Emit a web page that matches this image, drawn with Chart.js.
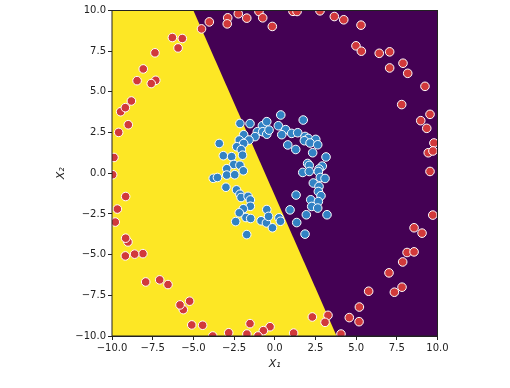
<!DOCTYPE html>
<html>
<head>
<meta charset="utf-8">
<script src="https://cdn.jsdelivr.net/npm/chart.js@4.4.0/dist/chart.umd.min.js"></script>
<style>
  body { margin: 0; background: #fff; }
</style>
</head>
<body>
<canvas id="chart" width="510" height="388"></canvas>
<script>
// axis ticks (both axes)
const tickValues = [-10, -7.5, -5, -2.5, 0, 2.5, 5, 7.5, 10];

// decision boundary: yellow region is left of this line
const boundaryX = [-10, -5, 3.8];
const boundaryY = [10, 10, -10];

// outer ring (class 0, red)
const redX = [-4.5, -4.02, -2.89, -2.92, -2.24, -1.72, -0.97, -0.74, -0.15, 1.12, 1.37, 2.78, 3.66, 4.24, 5.3,
  4.99, 5.32, 6.42, 7.06, 7.88, 7.06, 8.17, 9.23, 7.8, 9.54, 8.97, 9.34, 9.78, 9.43, 9.72, 9.54,
  9.71, 8.56, 9.05, 8.13, 8.56, 7.86, 7.02, 7.82, 7.35, 5.77, 5.2, 4.58, 5.18, 3.27, 3.09, 2.31, 4.07,
  1.16, -0.29, -0.7, -1.03, -1.52, -1.71, -2.83, -3.81, -4.43, -5.1, -5.62, -5.82, -5.23, -6.56, -7.07,
  -7.93, -8.1, -8.61, -9.18, -9.02, -9.16, -9.8, -9.67, -9.16, -9.96, -9.88, -9.59, -9.0, -9.47, -9.18,
  -8.81, -7.31, -7.59, -8.46, -8.08, -7.36, -5.94, -5.68, -6.29];
const redY = [8.87, 9.3, 9.55, 9.18, 9.8, 9.53, 9.94, 9.55, 9.02, 9.95, 9.94, 9.98, 9.63, 9.43, 9.1,
  7.83, 7.5, 7.37, 7.46, 6.76, 6.47, 6.14, 5.34, 4.22, 3.62, 3.23, 2.76, 1.86, 1.26, 1.37, 0.11,
  -2.57, -3.35, -3.68, -4.87, -4.83, -5.45, -6.12, -7.0, -7.31, -7.25, -8.22, -8.87, -9.12, -8.73, -9.16, -8.83, -9.88,
  -9.82, -9.43, -9.67, -10.0, -9.24, -9.88, -9.8, -10.0, -9.34, -9.32, -8.38, -8.09, -7.86, -6.84, -6.55,
  -6.68, -4.94, -4.97, -5.08, -4.22, -3.99, -3.0, -2.2, -1.43, -0.09, 0.97, 2.51, 2.98, 3.78, 4.03,
  4.44, 5.71, 5.51, 5.69, 6.41, 7.4, 7.7, 8.28, 8.34];

// inner ring (class 1, blue)
const blueX = [-2.14, -1.52, -0.76, -0.49, -1.07, -0.74, -0.49, -1.91, -1.21, -2.18, -1.58, -1.91, -3.41, -2.34,
  -2.06, -3.16, -2.65, -1.98, -2.52, -2.14, -2.95, -1.93, 0.37, 1.75, 0.22, -0.35, 0.67, 1.04, 1.41, 0.43,
  1.86, 2.06, 2.52, 1.82, 2.17, 2.64, 0.8, 1.29, 2.33, 3.15, 2.02, 2.12, 2.92, 2.72, -3.78, -3.52, -2.95,
  -2.46, -3.0, -2.35, -2.14, -2.07, -1.64, -1.5, -1.5, -1.93, -2.18, -1.77, -1.48, -2.4, -0.49, -0.84, -0.51,
  -1.72, 1.72, 2.12, 2.68, 2.8, 3.09, 2.37, 2.72, 2.68, 2.84, 1.31, 2.21, 2.68, 2.27, 2.64, 0.94, 1.94,
  3.21, -0.38, 0.26, 0.35, -0.14, 1.35, 1.86];
const blueY = [3.06, 3.05, 2.92, 3.17, 2.55, 2.55, 2.4, 2.37, 2.25, 2.04, 2.04, 1.83, 1.83, 1.63,
  1.45, 1.08, 1.02, 1.11, 0.54, 0.49, 0.28, 0.15, 3.58, 3.27, 2.92, 2.65, 2.68, 2.45, 2.49, 2.37,
  2.26, 2.14, 2.08, 2.0, 1.86, 1.75, 1.74, 1.46, 1.26, 1.0, 0.6, 0.48, 0.44, 0.26, -0.31, -0.26, -0.11,
  -0.09, -0.86, -1.02, -1.29, -1.49, -1.42, -1.64, -2.03, -2.18, -2.43, -2.72, -2.78, -2.97, -2.23, -2.92, -3.05,
  -3.77, 0.05, 0.11, 0.11, -0.26, -0.32, -0.6, -0.81, -1.12, -1.38, -1.34, -1.63, -1.74, -2.04, -2.14, -2.25, -2.55,
  -2.55, -2.65, -2.74, -2.95, -3.35, -3.03, -3.74];

const toPoints = (xs, ys) => xs.map((x, i) => ({ x: x, y: ys[i] }));

const fmt = (v) => v.toFixed(1).replace("-", "\u2212");

// top and right spines
const framePlugin = {
  id: "frame",
  afterDatasetsDraw(chart) {
    const { ctx, chartArea } = chart;
    ctx.save();
    ctx.strokeStyle = "#222";
    ctx.lineWidth = 1;
    ctx.strokeRect(chartArea.left, chartArea.top, chartArea.right - chartArea.left, chartArea.bottom - chartArea.top);
    ctx.restore();
  },
};

const pointStyle = (color) => ({
  type: "scatter",
  backgroundColor: color,
  borderColor: "#ffffff",
  borderWidth: 1,
  pointRadius: 4.3,
  pointHoverRadius: 4.3,
  clip: 0,
  order: 0,
});

new Chart(document.getElementById("chart"), {
  type: "scatter",
  data: {
    datasets: [
      {
        ...pointStyle("#d1393b"),
        data: toPoints(redX, redY),
      },
      {
        ...pointStyle("#3282c4"),
        data: toPoints(blueX, blueY),
      },
      {
        type: "line",
        data: toPoints(boundaryX, boundaryY),
        borderWidth: 0,
        pointRadius: 0,
        backgroundColor: "#fde725",
        fill: "start",
        tension: 0,
        clip: 0,
        order: 1,
      },
      {
        type: "line",
        data: toPoints([-10, 10], [10, 10]),
        borderWidth: 0,
        pointRadius: 0,
        backgroundColor: "#440154",
        fill: "start",
        clip: 0,
        order: 2,
      },
    ],
  },
  options: {
    responsive: false,
    animation: false,
    events: [],
    layout: { padding: { left: 51, right: 72.5, top: 10.5, bottom: 13 } },
    plugins: { legend: { display: false }, tooltip: { enabled: false } },
    scales: {
      x: {
        type: "linear",
        min: -10,
        max: 10,
        afterBuildTicks: (scale) => { scale.ticks = tickValues.map((v) => ({ value: v })); },
        afterFit: (scale) => { scale.height = 39; scale.paddingLeft = 0; scale.paddingRight = 0; },
        ticks: { color: "#222", font: { family: "DejaVu Sans", size: 10 }, padding: 2, maxRotation: 0, callback: fmt },
        grid: { drawOnChartArea: false, drawTicks: true, tickLength: 4, tickColor: "#222" },
        border: { display: true, color: "#222", width: 1 },
        title: { display: true, text: "X\u2081", color: "#222", font: { family: "DejaVu Sans", size: 11, style: "italic" } },
      },
      y: {
        type: "linear",
        min: -10,
        max: 10,
        afterBuildTicks: (scale) => { scale.ticks = tickValues.map((v) => ({ value: v })); },
        afterFit: (scale) => { scale.width = 61; scale.paddingTop = 0; scale.paddingBottom = 0; },
        ticks: { color: "#222", font: { family: "DejaVu Sans", size: 10 }, padding: 2, callback: fmt },
        grid: { drawOnChartArea: false, drawTicks: true, tickLength: 4, tickColor: "#222" },
        border: { display: true, color: "#222", width: 1 },
        title: { display: true, text: "X\u2082", color: "#222", font: { family: "DejaVu Sans", size: 11, style: "italic" } },
      },
    },
  },
  plugins: [framePlugin],
});
</script>
</body>
</html>
